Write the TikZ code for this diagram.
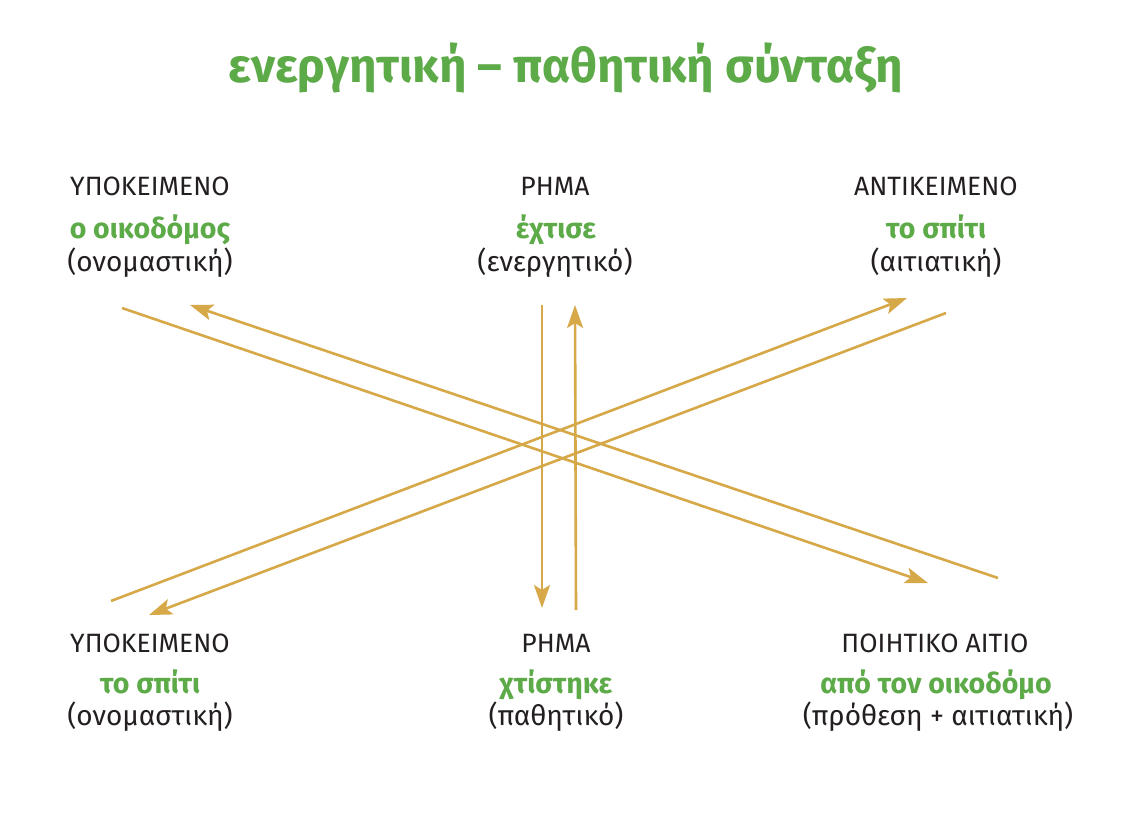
\documentclass[tikz,border=0pt]{standalone}
\usepackage{fontspec}
\setmainfont{Fira Sans}
\usetikzlibrary{arrows.meta}

\definecolor{leafgreen}{RGB}{93,170,72}
\definecolor{ochre}{RGB}{214,168,72}
\definecolor{inkgray}{RGB}{35,31,32}

\begin{document}
\begin{tikzpicture}[%
    x=1pt, y=-1pt,
    >={Stealth[length=23pt,width=16pt,inset=5pt]},
    role/.style={anchor=base, inner sep=0pt, text=inkgray,
                 font=\fontsize{26.5}{30}\selectfont},
    word/.style={anchor=base, inner sep=0pt, text=leafgreen,
                 font=\fontsize{28.5}{32}\selectfont\bfseries},
    case/.style={anchor=base, inner sep=0pt, text=inkgray,
                 font=\fontsize{28}{32}\selectfont},
    link/.style={draw=ochre, line width=2.6pt}
  ]
  \useasboundingbox[fill=white] (0,0) rectangle (1135,817);

  \node[anchor=base, text=leafgreen, font=\fontsize{47.5}{50}\selectfont\bfseries]
    (title) at (566,82) {ενεργητική – παθητική σύνταξη};

  % active voice
  \node[role] (act-subj-role) at (150,195) {ΥΠΟΚΕΙΜΕΝΟ};
  \node[word] (act-subj-word) at (150,238) {ο οικοδόμος};
  \node[case] (act-subj-case) at (150,271) {(ονομαστική)};

  \node[role] (act-verb-role) at (555,195) {ΡΗΜΑ};
  \node[word] (act-verb-word) at (556,238) {έχτισε};
  \node[case] (act-verb-case) at (555,271) {(ενεργητικό)};

  \node[role] (act-obj-role) at (936,195) {ΑΝΤΙΚΕΙΜΕΝΟ};
  \node[word] (act-obj-word) at (936,238) {το σπίτι};
  \node[case] (act-obj-case) at (936,271) {(αιτιατική)};

  % passive voice
  \node[role] (pas-subj-role) at (150,652) {ΥΠΟΚΕΙΜΕΝΟ};
  \node[word] (pas-subj-word) at (150,693) {το σπίτι};
  \node[case] (pas-subj-case) at (150,725) {(ονομαστική)};

  \node[role] (pas-verb-role) at (556,652) {ΡΗΜΑ};
  \node[word] (pas-verb-word) at (556,693) {χτίστηκε};
  \node[case] (pas-verb-case) at (556,725) {(παθητικό)};

  \node[role] (pas-agent-role) at (935,652) {ΠΟΙΗΤΙΚΟ ΑΙΤΙΟ};
  \node[word] (pas-agent-word) at (936,693) {από τον οικοδόμο};
  \node[case] (pas-agent-case) at (938,725) {(πρόθεση + αιτιατική)};

  % arrow ends
  \coordinate (subj-out)  at (122,308);
  \coordinate (agent-in)  at (928,583);
  \coordinate (agent-out) at (998,578);
  \coordinate (subj-in)   at (190,305);
  \coordinate (psubj-out) at (111,601);
  \coordinate (obj-in)    at (907,298);
  \coordinate (obj-out)   at (946,313);
  \coordinate (psubj-in)  at (149,615);
  \coordinate (verb-out)  at (542,305);
  \coordinate (pverb-in)  at (542,608);
  \coordinate (pverb-out) at (576,610);
  \coordinate (verb-in)   at (575,305);

  \draw[link,->] (subj-out)  -- (agent-in);
  \draw[link,->] (agent-out) -- (subj-in);
  \draw[link,->] (psubj-out) -- (obj-in);
  \draw[link,->] (obj-out)   -- (psubj-in);
  \draw[link,->] (verb-out)  -- (pverb-in);
  \draw[link,->] (pverb-out) -- (verb-in);
\end{tikzpicture}
\end{document}
